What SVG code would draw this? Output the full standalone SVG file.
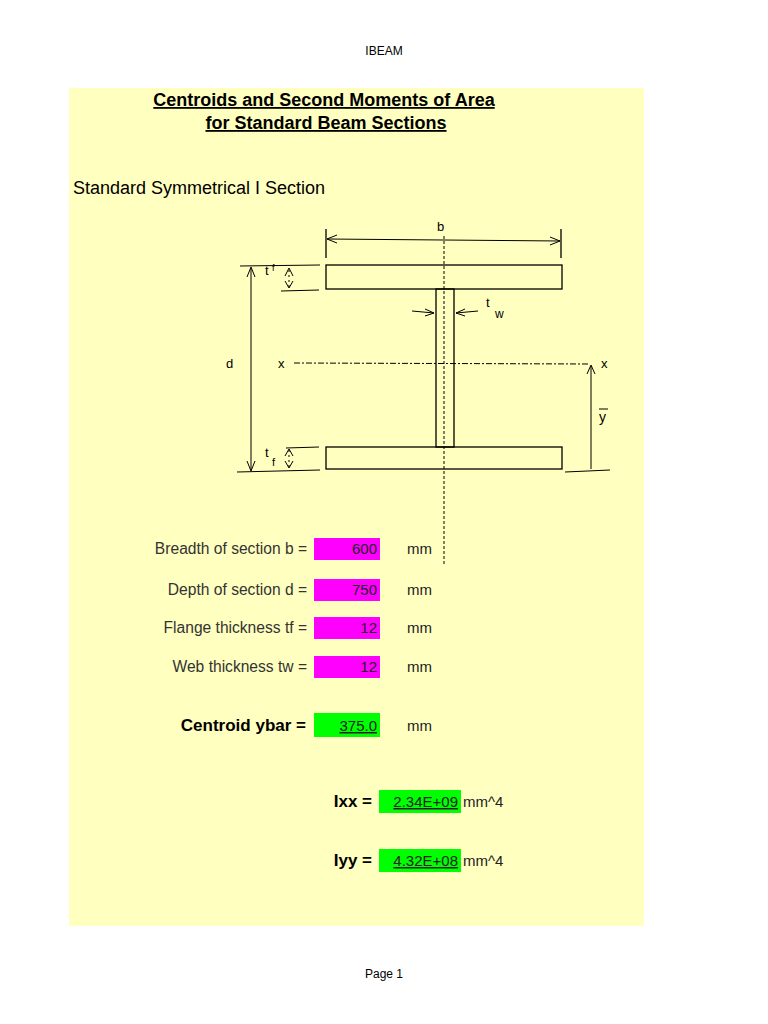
<svg xmlns="http://www.w3.org/2000/svg" width="768" height="1024" viewBox="0 0 768 1024">
<style>
text{font-family:"Liberation Sans",Arial,sans-serif;fill:#000}
.s{font-size:15px;fill:#222}
.l{stroke:#000;stroke-width:1.3;fill:none}
.a{stroke:#000;stroke-width:1;fill:none}
.lab{font-size:15.6px;text-anchor:end;fill:#333}
.v{font-size:15px;text-anchor:end;fill:#222}
</style>
<rect width="768" height="1024" fill="#fff"/>
<text x="384" y="55" font-size="12" text-anchor="middle">IBEAM</text>
<rect x="69" y="88" width="575" height="838" fill="#FFFFC0"/>
<text x="324" y="106" font-size="18" font-weight="bold" text-anchor="middle" text-decoration="underline">Centroids and Second Moments of Area</text>
<text x="326" y="129" font-size="18" font-weight="bold" text-anchor="middle" text-decoration="underline"> for Standard Beam Sections</text>
<text x="73" y="194" font-size="18">Standard Symmetrical I Section</text>
<g id="beam">
<rect x="326" y="265" width="236" height="24" class="l"/>
<rect x="436" y="289" width="18" height="158" class="l"/>
<rect x="326" y="447" width="236" height="22" class="l"/>
</g>
<g id="connectors">
<line x1="444" y1="236" x2="444" y2="566" class="a" stroke-dasharray="3,2"/>
<line x1="294" y1="363" x2="590" y2="364" class="a" stroke-dasharray="6,2,2,2"/>
<line x1="326" y1="229" x2="326" y2="258" class="l"/>
<line x1="561" y1="229" x2="561" y2="258" class="l"/>
<line x1="327" y1="239" x2="560" y2="241" class="a"/>
<polyline points="337,235 327,239 337,243" class="a"/>
<polyline points="550,237 560,241 550,245" class="a"/>
<line x1="240" y1="266" x2="320" y2="265" class="a"/>
<line x1="237" y1="472" x2="320" y2="470" class="a"/>
<line x1="251" y1="268" x2="251" y2="470" class="a"/>
<polyline points="247,277 251,267 255,277" class="a"/>
<polyline points="247,461 251,471 255,461" class="a"/>
<line x1="281" y1="291" x2="319" y2="290" class="a"/>
<line x1="286" y1="448" x2="319" y2="447" class="a"/>
<line x1="289" y1="270" x2="289" y2="288" class="a" stroke-dasharray="2,3"/>
<polyline points="285,276 289,268 293,276" class="a"/>
<polyline points="285,281 289,288 293,281" class="a"/>
<line x1="289" y1="450" x2="289" y2="468" class="a" stroke-dasharray="2,3"/>
<polyline points="285,456 289,449 293,456" class="a"/>
<polyline points="285,461 289,468 293,461" class="a"/>
<line x1="412" y1="311" x2="434" y2="313" class="a"/>
<polyline points="425,309 434,313 425,316" class="a"/>
<line x1="456" y1="313" x2="478" y2="311" class="a"/>
<polyline points="465,309 456,313 465,316" class="a"/>
<line x1="591" y1="366" x2="591" y2="469" class="a"/>
<polyline points="587,374 591,365 595,374" class="a"/>
<line x1="565" y1="472" x2="610" y2="470" class="a"/>
</g>
<g id="labels" font-size="13">
<text x="437" y="231" font-size="13">b</text>
<text x="265" y="275" font-size="13">t</text><text x="272" y="271" font-size="9">f</text>
<text x="265" y="457" font-size="13">t</text><text x="272" y="466" font-size="11">f</text>
<text x="486" y="307" font-size="13">t</text><text x="495" y="318" font-size="12">w</text>
<text x="226" y="368" font-size="13">d</text>
<text x="278" y="368" font-size="13">x</text>
<text x="601" y="368" font-size="13">x</text>
<text x="599" y="422" font-size="14">y</text>
<line x1="599" y1="409" x2="608" y2="409" class="a"/>
</g>
<g id="inputs">
<text x="307" y="554" class="lab">Breadth of section b =</text>
<rect x="314" y="538" width="66" height="22" fill="#FF00FF"/>
<text x="377" y="554" class="v">600</text><text x="407" y="554" class="s">mm</text>
<text x="307" y="595" class="lab">Depth of section d =</text>
<rect x="314" y="579" width="66" height="22" fill="#FF00FF"/>
<text x="377" y="595" class="v">750</text><text x="407" y="595" class="s">mm</text>
<text x="307" y="633" class="lab">Flange thickness tf =</text>
<rect x="314" y="617" width="66" height="22" fill="#FF00FF"/>
<text x="377" y="633" class="v">12</text><text x="407" y="633" class="s">mm</text>
<text x="307" y="672" class="lab">Web thickness tw =</text>
<rect x="314" y="656" width="66" height="22" fill="#FF00FF"/>
<text x="377" y="672" class="v">12</text><text x="407" y="672" class="s">mm</text>
</g>
<g id="results">
<text x="306" y="731" font-size="17" font-weight="bold" text-anchor="end">Centroid ybar =</text>
<rect x="314" y="713" width="66" height="24" fill="#00FF00"/>
<text x="377" y="731" class="v" text-decoration="underline">375.0</text><text x="407" y="731" class="s">mm</text>
<text x="372" y="807" font-size="17" font-weight="bold" text-anchor="end">Ixx =</text>
<rect x="379" y="790" width="82" height="23" fill="#00FF00"/>
<text x="458" y="807" class="v" text-decoration="underline">2.34E+09</text><text x="463" y="807" class="s">mm^4</text>
<text x="372" y="866" font-size="17" font-weight="bold" text-anchor="end">Iyy =</text>
<rect x="379" y="849" width="82" height="23" fill="#00FF00"/>
<text x="458" y="866" class="v" text-decoration="underline">4.32E+08</text><text x="463" y="866" class="s">mm^4</text>
</g>
<text x="384" y="978" font-size="12" text-anchor="middle">Page 1</text>
</svg>
